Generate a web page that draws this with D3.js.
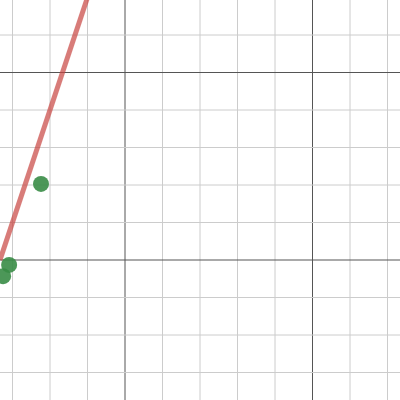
<!DOCTYPE html>
<html>
<head>
<meta charset="utf-8">
<script src="https://cdnjs.cloudflare.com/ajax/libs/d3/7.8.5/d3.min.js"></script>
<style>body{margin:0;background:#fff}</style>
</head>
<body>
<script>
// points
var pointX = [-3.25, -3.09, -2.24];
var pointY = [-0.43, -0.13, 2.03];
// fitted line y = slope*x + intercept
var slope = 3, intercept = 10;

var W = 400, H = 400;
var x = d3.scaleLinear().domain([-10 / 3, 22 / 3]).range([0, W]);
var y = d3.scaleLinear().domain([-56 / 15, 104 / 15]).range([H, 0]);

var svg = d3.select("body").append("svg").attr("width", W).attr("height", H);

var gx = d3.range(-3, 8), gy = d3.range(-3, 7);
svg.selectAll(".vx").data(gx).enter().append("line")
  .attr("x1", d => x(d)).attr("x2", d => x(d)).attr("y1", 0).attr("y2", H)
  .attr("stroke", d => d % 5 == 0 ? "#555" : "#ccc").attr("stroke-width", 1);
svg.selectAll(".hy").data(gy).enter().append("line")
  .attr("y1", d => y(d)).attr("y2", d => y(d)).attr("x1", 0).attr("x2", W)
  .attr("stroke", d => d % 5 == 0 ? "#555" : "#ccc").attr("stroke-width", 1);

var x0 = x.domain()[0], x1 = (y.domain()[1] + 0.5 - intercept) / slope;
svg.append("line")
  .attr("x1", x(x0)).attr("y1", y(slope * x0 + intercept))
  .attr("x2", x(x1)).attr("y2", y(slope * x1 + intercept))
  .attr("stroke", "#c74440").attr("stroke-opacity", 0.7).attr("stroke-width", 5);

svg.selectAll("circle").data(pointX).enter().append("circle")
  .attr("cx", d => x(d)).attr("cy", (d, i) => y(pointY[i]))
  .attr("r", 8).attr("fill", "#388c46").attr("fill-opacity", 0.9);
</script>
</body>
</html>
